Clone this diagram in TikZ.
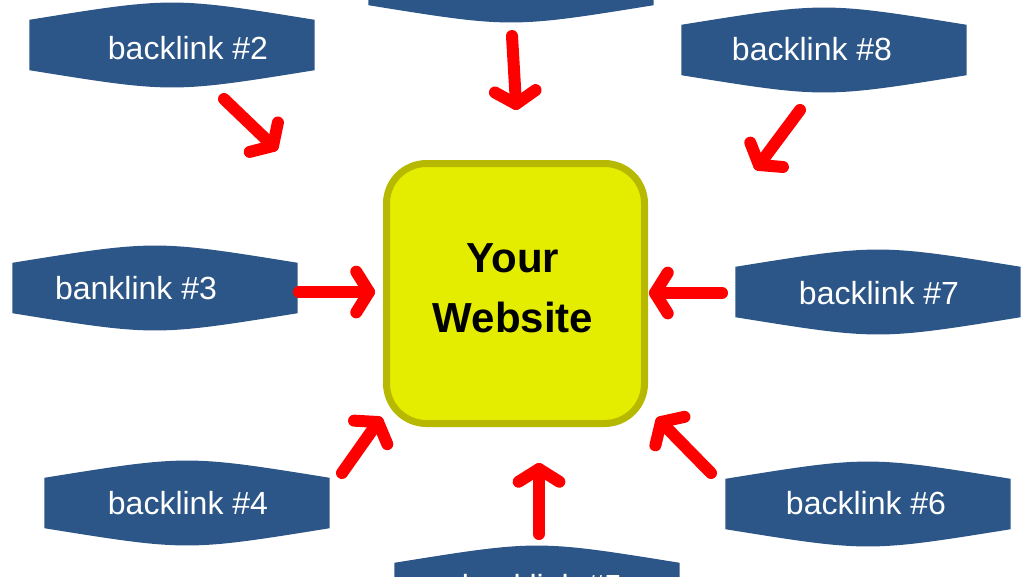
\documentclass[tikz,border=0pt]{standalone}
\usepackage{fontspec}
\setmainfont{Liberation Sans}
\usetikzlibrary{calc}
\definecolor{bannerblue}{RGB}{44,86,135}
\definecolor{webfill}{RGB}{228,237,0}
\definecolor{webborder}{RGB}{182,185,0}
\definecolor{arrowred}{RGB}{255,0,0}
\tikzset{
  banner/.style={rectangle, minimum width=285pt, minimum height=50pt, inner sep=0pt},
  bannertext/.style={text=white, font=\fontsize{32}{38}\selectfont, inner sep=0pt},
  website/.style={rectangle, rounded corners=40pt, draw=webborder, line width=7pt, fill=webfill,
    minimum width=258pt, minimum height=260pt},
  webtext/.style={font=\fontsize{42}{60}\selectfont\bfseries, align=center, inner sep=0pt},
  conn/.style={draw=arrowred, line width=12pt, line cap=round, line join=round}
}
\newcommand\bannershape[1]{%
  \fill[bannerblue] (#1.north west) .. controls ($(#1.north)+(0,-23)$) .. (#1.north east)
    -- (#1.south east) .. controls ($(#1.south)+(0,23)$) .. (#1.south west) -- cycle;}
\newcommand\redconn[2]{%
  \draw[conn] (#1) -- (#2);
  \draw[conn] ($(#2)!24pt!58:(#1)$) -- (#2) -- ($(#2)!24pt!-58:(#1)$);}
\begin{document}
\begin{tikzpicture}[x=1pt,y=-1pt]
\useasboundingbox (0,0) rectangle (1024,576);
\clip (0,0) rectangle (1024,576);
% banners
\node[banner] (b1) at (511,-20) {};
\node[banner] (b2) at (172,45) {};
\node[banner] (b3) at (155,288) {};
\node[banner] (b4) at (187,503) {};
\node[banner] (b5) at (537,588) {};
\node[banner] (b6) at (868,504) {};
\node[banner] (b7) at (878,292) {};
\node[banner] (b8) at (824,50) {};
\foreach \b in {b1,b2,b3,b4,b5,b6,b7,b8} {\bannershape{\b}}
\node[bannertext] (l2) at (188,48) {backlink \#2};
\node[bannertext] (l3) at (136,288) {banklink \#3};
\node[bannertext] (l4) at (188,503) {backlink \#4};
\node[bannertext] (l5) at (542,586) {backlink \#5};
\node[bannertext] (l6) at (866,503) {backlink \#6};
\node[bannertext] (l7) at (879,293) {backlink \#7};
\node[bannertext] (l8) at (812,49) {backlink \#8};
% center
\node[website] (web) at (515.5,293.5) {};
\node[webtext] (webt) at (513,288) {Your\\Website};
% arrow end points
\coordinate (s1) at (512,36);  \coordinate (e1) at (516,104);
\coordinate (s2) at (224,99);  \coordinate (e2) at (273,146);
\coordinate (s8) at (800,110); \coordinate (e8) at (759,165);
\coordinate (s3) at (299,292); \coordinate (e3) at (369,292);
\coordinate (s7) at (722,293); \coordinate (e7) at (655,293);
\coordinate (s4) at (342,473); \coordinate (e4) at (378,422);
\coordinate (s6) at (711,473); \coordinate (e6) at (661,422);
\coordinate (s5) at (539,534); \coordinate (e5) at (539,469);
\redconn{s1}{e1}
\redconn{s2}{e2}
\redconn{s3}{e3}
\redconn{s4}{e4}
\redconn{s5}{e5}
\redconn{s6}{e6}
\redconn{s7}{e7}
\redconn{s8}{e8}
\end{tikzpicture}
\end{document}
